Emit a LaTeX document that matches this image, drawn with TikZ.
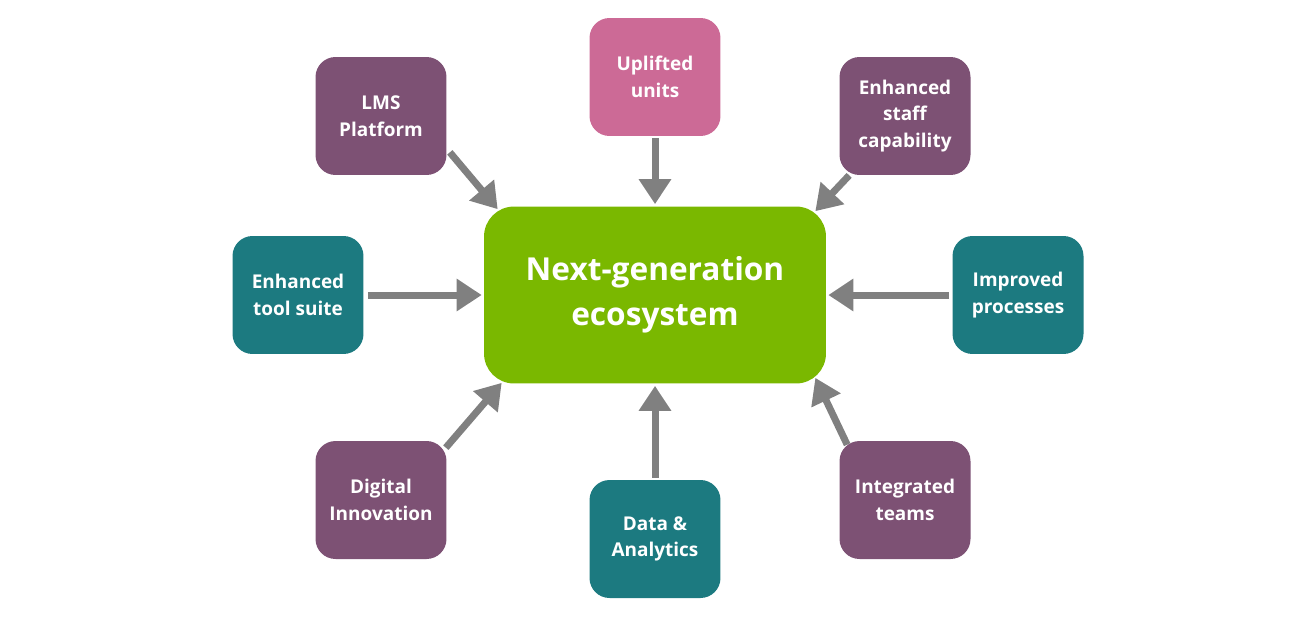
\documentclass[tikz,border=0pt]{standalone}
\usepackage{fontspec}
\setmainfont{Open Sans}
\usetikzlibrary{arrows.meta,calc}
\definecolor{cgreen}{HTML}{7AB800}
\definecolor{cpink}{HTML}{CC6A96}
\definecolor{cpurple}{HTML}{7D5174}
\definecolor{cteal}{HTML}{1C7A80}
\definecolor{carrow}{HTML}{808080}
\begin{document}
\begin{tikzpicture}[x=0.02cm,y=-0.02cm,
  box/.style={rounded corners=0.4cm,minimum width=2.62cm,minimum height=2.36cm,text=white,align=center,font=\fontsize{10.8}{15.2}\selectfont\bfseries,inner sep=0pt},
  arr/.style={draw=carrow,line width=0.14cm,-{Triangle[length=0.5cm,width=0.62cm]}}]
\useasboundingbox (0,0) rectangle (1311,616);
\node[box,fill=cgreen,rounded corners=0.6cm,minimum width=6.84cm,minimum height=3.54cm,font=\fontsize{18}{25.5}\selectfont\bfseries] (c) at (655,295) {Next-generation\\ecosystem};
\node[box,fill=cpink] (up) at (655,77) {Uplifted\\units};
\node[box,fill=cpurple] (lms) at (381,116) {LMS\\Platform};
\node[box,fill=cpurple] (staff) at (905,116) {Enhanced\\staff\\capability};
\node[box,fill=cteal] (tool) at (298,295) {Enhanced\\tool suite};
\node[box,fill=cteal] (proc) at (1018,295) {Improved\\processes};
\node[box,fill=cpurple] (dig) at (381,500) {Digital\\Innovation};
\node[box,fill=cteal] (data) at (655,539) {Data \&\\Analytics};
\node[box,fill=cpurple] (int) at (905,500) {Integrated\\teams};
\draw[arr] ($(up.south)+(0,2)$) -- ($(c.north)+(0,-2)$);
\draw[arr] ($(data.north)+(0,-2)$) -- ($(c.south)+(0,2)$);
\draw[arr] ($(tool.east)+(4,0)$) -- ($(c.west)+(-2,0)$);
\draw[arr] ($(proc.west)+(-3,0)$) -- ($(c.east)+(2,0)$);
\draw[arr] ($(lms.south east)+(3,-23)$) -- ($(c.north west)+(14,3)$);
\draw[arr] ($(staff.south west)+(10,0)$) -- ($(c.north east)+(-11,5)$);
\draw[arr] ($(dig.north east)+(-1,7)$) -- ($(c.south west)+(18,-1)$);
\draw[arr] ($(int.north west)+(8,4)$) -- ($(c.south east)+(-11,-6)$);
\end{tikzpicture}
\end{document}
